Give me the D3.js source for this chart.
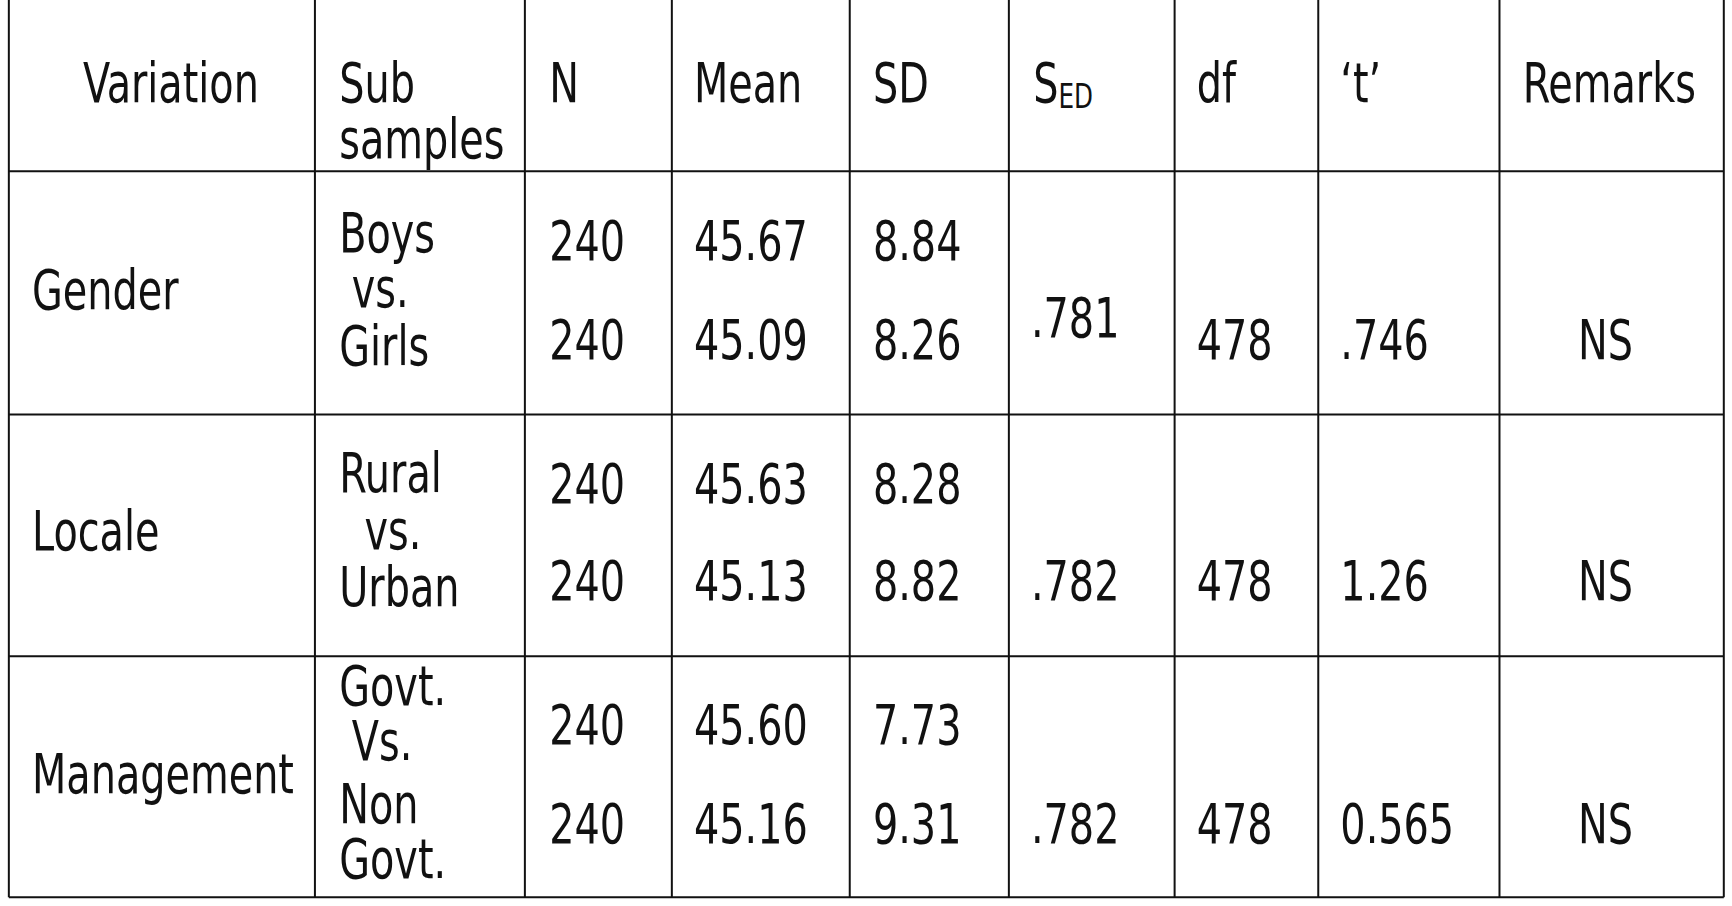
<!DOCTYPE html><html><head><meta charset="utf-8">
<script src="https://cdn.jsdelivr.net/npm/d3@7"></script>
<style>body{margin:0;background:#fff}text{font-family:"Liberation Sans Narrow","DejaVu Sans Condensed","DejaVu Sans",sans-serif;fill:#111}</style></head><body>
<svg id="c" width="1732" height="906"></svg>
<script>
const headers=["Variation","Sub|samples","N","Mean","SD","S_ED","df","‘t’","Remarks"];
const variations=["Gender","Locale","Management"];
const subSamples=[["Boys"," vs.","Girls"],["Rural","  vs.","Urban"],["Govt."," Vs.","Non","Govt."]];
const nValues=[[240,240],[240,240],[240,240]];
const means=[["45.67","45.09"],["45.63","45.13"],["45.60","45.16"]];
const sds=[["8.84","8.26"],["8.28","8.82"],["7.73","9.31"]];
const sed=[".781",".782",".782"];
const dfs=["478","478","478"];
const tvals=[".746","1.26","0.565"];
const remarks=["NS","NS","NS"];

const s=1.105, sx=0.8;
const svg=d3.select("#c");
const colX=[8,285,475,608,769,913,1063,1193,1357,1560].map(v=>v*s);
const rowY=[0,155,375,594,812].map(v=>v*s);
const fs=50*s;
const g=svg.append("g");
colX.forEach(x=>g.append("line").attr("x1",x).attr("x2",x).attr("y1",0).attr("y2",rowY[4]).attr("stroke","#111").attr("stroke-width",2));
rowY.slice(1).forEach(y=>g.append("line").attr("x1",colX[0]).attr("x2",colX[9]).attr("y1",y).attr("y2",y).attr("stroke","#111").attr("stroke-width",2));
function T(x,y,t,anchor){return svg.append("text").attr("transform",`translate(${x*s},${y*s}) scale(${sx},1)`).attr("font-size",fs).attr("text-anchor",anchor||"start").attr("xml:space","preserve").text(t);}
const hx=[75,307,497,628,790,935,1083,1213,1378];
headers.forEach((h,i)=>{
  if(h==="S_ED"){const t=T(hx[i],92,"S");t.append("tspan").attr("font-size",fs*0.62).attr("dy",fs*0.12).text("ED");}
  else{h.split("|").forEach((p,j)=>T(hx[i],92+j*51,p));}
});
const varY=[280,498,718];
const subY=[[228,278,330],[445,497,548],[638,688,745,795]];
const numY=[[235,325],[455,543],[673,763]];
const sedY=[305,543,763];
variations.forEach((v,i)=>{
  T(29,varY[i],v);
  subSamples[i].forEach((p,j)=>T(307,subY[i][j],p));
  nValues[i].forEach((n,j)=>T(497,numY[i][j],n));
  means[i].forEach((m,j)=>T(628,numY[i][j],m));
  sds[i].forEach((m,j)=>T(790,numY[i][j],m));
  T(933,sedY[i],sed[i]);
  T(1083,numY[i][1],dfs[i]);
  T(1213,numY[i][1],tvals[i]);
  T(1428,numY[i][1],remarks[i]);
});
</script></body></html>
